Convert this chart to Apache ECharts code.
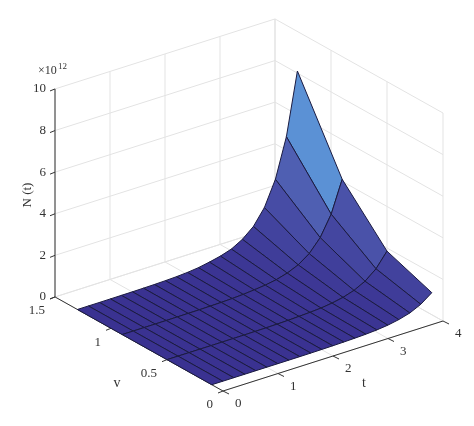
<!DOCTYPE html>
<html><head><meta charset="utf-8">
<script src="https://cdn.jsdelivr.net/npm/echarts@6/dist/echarts.min.js"></script>
<style>html,body{margin:0;padding:0;background:#fff}#c{width:474px;height:426px}</style>
</head><body><div id="c"></div>
<script>
// data (N in units of 1e12)
const tVals = [0,0.2,0.4,0.6,0.8,1.0,1.2,1.4,1.6,1.8,2.0,2.2,2.4,2.6,2.8,3.0,3.2,3.4,3.6,3.8,4.0];
const vVals = [0.1,0.5,0.9,1.3];
const nV01 = [0.0001,0.0002,0.0003,0.0005,0.0008,0.0013,0.002,0.0032,0.005,0.008,0.013,0.021,0.034,0.05,0.072,0.11,0.17,0.27,0.42,0.67,1.06];
const nV05 = [0.0002,0.0003,0.0006,0.0009,0.0014,0.0023,0.0036,0.0056,0.009,0.014,0.023,0.037,0.06,0.087,0.125,0.195,0.3,0.47,0.74,1.17,1.85];
const nV09 = [0.0004,0.0007,0.0012,0.002,0.003,0.005,0.008,0.0125,0.02,0.031,0.05,0.082,0.13,0.19,0.28,0.43,0.66,1.03,1.63,2.59,4.1];
const nV13 = [0.0008,0.0014,0.0024,0.004,0.006,0.01,0.016,0.025,0.04,0.062,0.1,0.16,0.26,0.38,0.55,0.85,1.3,2.04,3.23,5.11,8.1];
const nRows = [nV01,nV05,nV09,nV13];
const tTicks = [0,1,2,3,4];
const vTicks = [0,0.5,1,1.5];
const zTicks = [0,2,4,6,8,10];

const T0=0,T1=4,V0=0,V1=1.5,Z1=10;
function P(t,v,z){return [223+55*t-112*v, 391-17.5*t-62.7*v-20.8*z];}

const grid=[];
tTicks.forEach(t=>{grid.push([t,V1,0,t,V1,Z1]);grid.push([t,V0,0,t,V1,0]);});
vTicks.forEach(v=>{grid.push([T1,v,0,T1,v,Z1]);grid.push([T0,v,0,T1,v,0]);});
zTicks.forEach(z=>{grid.push([T0,V1,z,T1,V1,z]);grid.push([T1,V0,z,T1,V1,z]);});

const faces=[];
for(let j=0;j<vVals.length-1;j++)for(let i=0;i<tVals.length-1;i++)faces.push([i,j]);
faces.sort((a,b)=>(b[0]/20+b[1]/3)-(a[0]/20+a[1]/3));

function col(z){
  const st=[[0,[58,50,145]],[1.5,[68,70,160]],[3,[78,90,175]],[4.5,[88,140,210]],[8,[110,175,230]]];
  for(let k=0;k<st.length-1;k++){if(z<=st[k+1][0]){const f=(z-st[k][0])/(st[k+1][0]-st[k][0]);
    const c=st[k][1].map((x,m)=>Math.round(x+f*(st[k+1][1][m]-x)));return 'rgb('+c.join(',')+')';}}
  return 'rgb(110,175,230)';
}

const labels=[];
zTicks.forEach(z=>{const p=P(T0,V1,z);labels.push([p[0]-9,p[1],String(z),'right']);});
vTicks.forEach(v=>{const p=P(T0,v,0);labels.push([p[0]-10,p[1]+14,String(v),'right']);});
tTicks.forEach(t=>{const p=P(t,V0,0);labels.push([p[0]+12,p[1]+13,String(t),'left']);});

const chart=echarts.init(document.getElementById('c'));
const font='"Liberation Serif", serif';
chart.setOption({
  animation:false,
  grid:{left:0,right:0,top:0,bottom:0},
  xAxis:{type:'value',min:0,max:474,show:false},
  yAxis:{type:'value',min:0,max:426,inverse:true,show:false},
  series:[
  {type:'custom',data:grid.map((g,k)=>k),silent:true,
   renderItem:(p,api)=>{const g=grid[api.value(0)];const a=api.coord(P(g[0],g[1],g[2])),b=api.coord(P(g[3],g[4],g[5]));
     return {type:'line',shape:{x1:a[0],y1:a[1],x2:b[0],y2:b[1]},style:{stroke:'#e3e3e3',lineWidth:1}};}},
  {type:'custom',data:[0],silent:true,
   renderItem:(p,api)=>{const segs=[[T0,V1,0,T0,V1,Z1],[T0,V1,0,T0,V0,0],[T0,V0,0,T1,V0,0]];
     const ch=[];segs.forEach(g=>{const a=api.coord(P(g[0],g[1],g[2])),b=api.coord(P(g[3],g[4],g[5]));
       ch.push({type:'line',shape:{x1:a[0],y1:a[1],x2:b[0],y2:b[1]},style:{stroke:'#333',lineWidth:1}});});
     zTicks.forEach(z=>{const a=api.coord(P(T0,V1,z));ch.push({type:'line',shape:{x1:a[0],y1:a[1],x2:a[0]-5,y2:a[1]+2},style:{stroke:'#333'}});});
     vTicks.forEach(v=>{const a=api.coord(P(T0,v,0));ch.push({type:'line',shape:{x1:a[0],y1:a[1],x2:a[0]-5,y2:a[1]+2},style:{stroke:'#333'}});});
     tTicks.forEach(t=>{const a=api.coord(P(t,V0,0));ch.push({type:'line',shape:{x1:a[0],y1:a[1],x2:a[0]+6,y2:a[1]+3},style:{stroke:'#333'}});});
     return {type:'group',children:ch};}},
  {type:'custom',data:faces.map((f,k)=>k),silent:true,
   renderItem:(p,api)=>{const f=faces[api.value(0)];const i=f[0],j=f[1];
     const zs=[nRows[j][i],nRows[j][i+1],nRows[j+1][i+1],nRows[j+1][i]];
     const pts=[P(tVals[i],vVals[j],zs[0]),P(tVals[i+1],vVals[j],zs[1]),P(tVals[i+1],vVals[j+1],zs[2]),P(tVals[i],vVals[j+1],zs[3])].map(q=>api.coord(q));
     const avg=(zs[0]+zs[1]+zs[2]+zs[3])/4;
     return {type:'polygon',shape:{points:pts},style:{fill:col(avg),stroke:'#1a1a40',lineWidth:1,lineJoin:'round'}};}},
  {type:'custom',data:labels.map((l,k)=>k),silent:true,
   renderItem:(p,api)=>{const l=labels[api.value(0)];const a=api.coord([l[0],l[1]]);
     return {type:'text',x:a[0],y:a[1],style:{text:l[2],fill:'#333',font:'13px '+font,align:l[3],verticalAlign:'middle'}};}}
  ],
  graphic:[
   {type:'text',left:38,top:65,style:{text:'×10',fill:'#333',font:'12px '+font}},
   {type:'text',left:58,top:62,style:{text:'12',fill:'#333',font:'9px '+font}},
   {type:'text',x:28,y:195,rotation:Math.PI/2,style:{text:'N (t)',fill:'#333',font:'13px '+font,align:'center',verticalAlign:'middle'}},
   {type:'text',x:117,y:383,style:{text:'v',fill:'#333',font:'14px '+font,align:'center',verticalAlign:'middle'}},
   {type:'text',x:364,y:383,style:{text:'t',fill:'#333',font:'14px '+font,align:'center',verticalAlign:'middle'}}
  ]
});
</script></body></html>
